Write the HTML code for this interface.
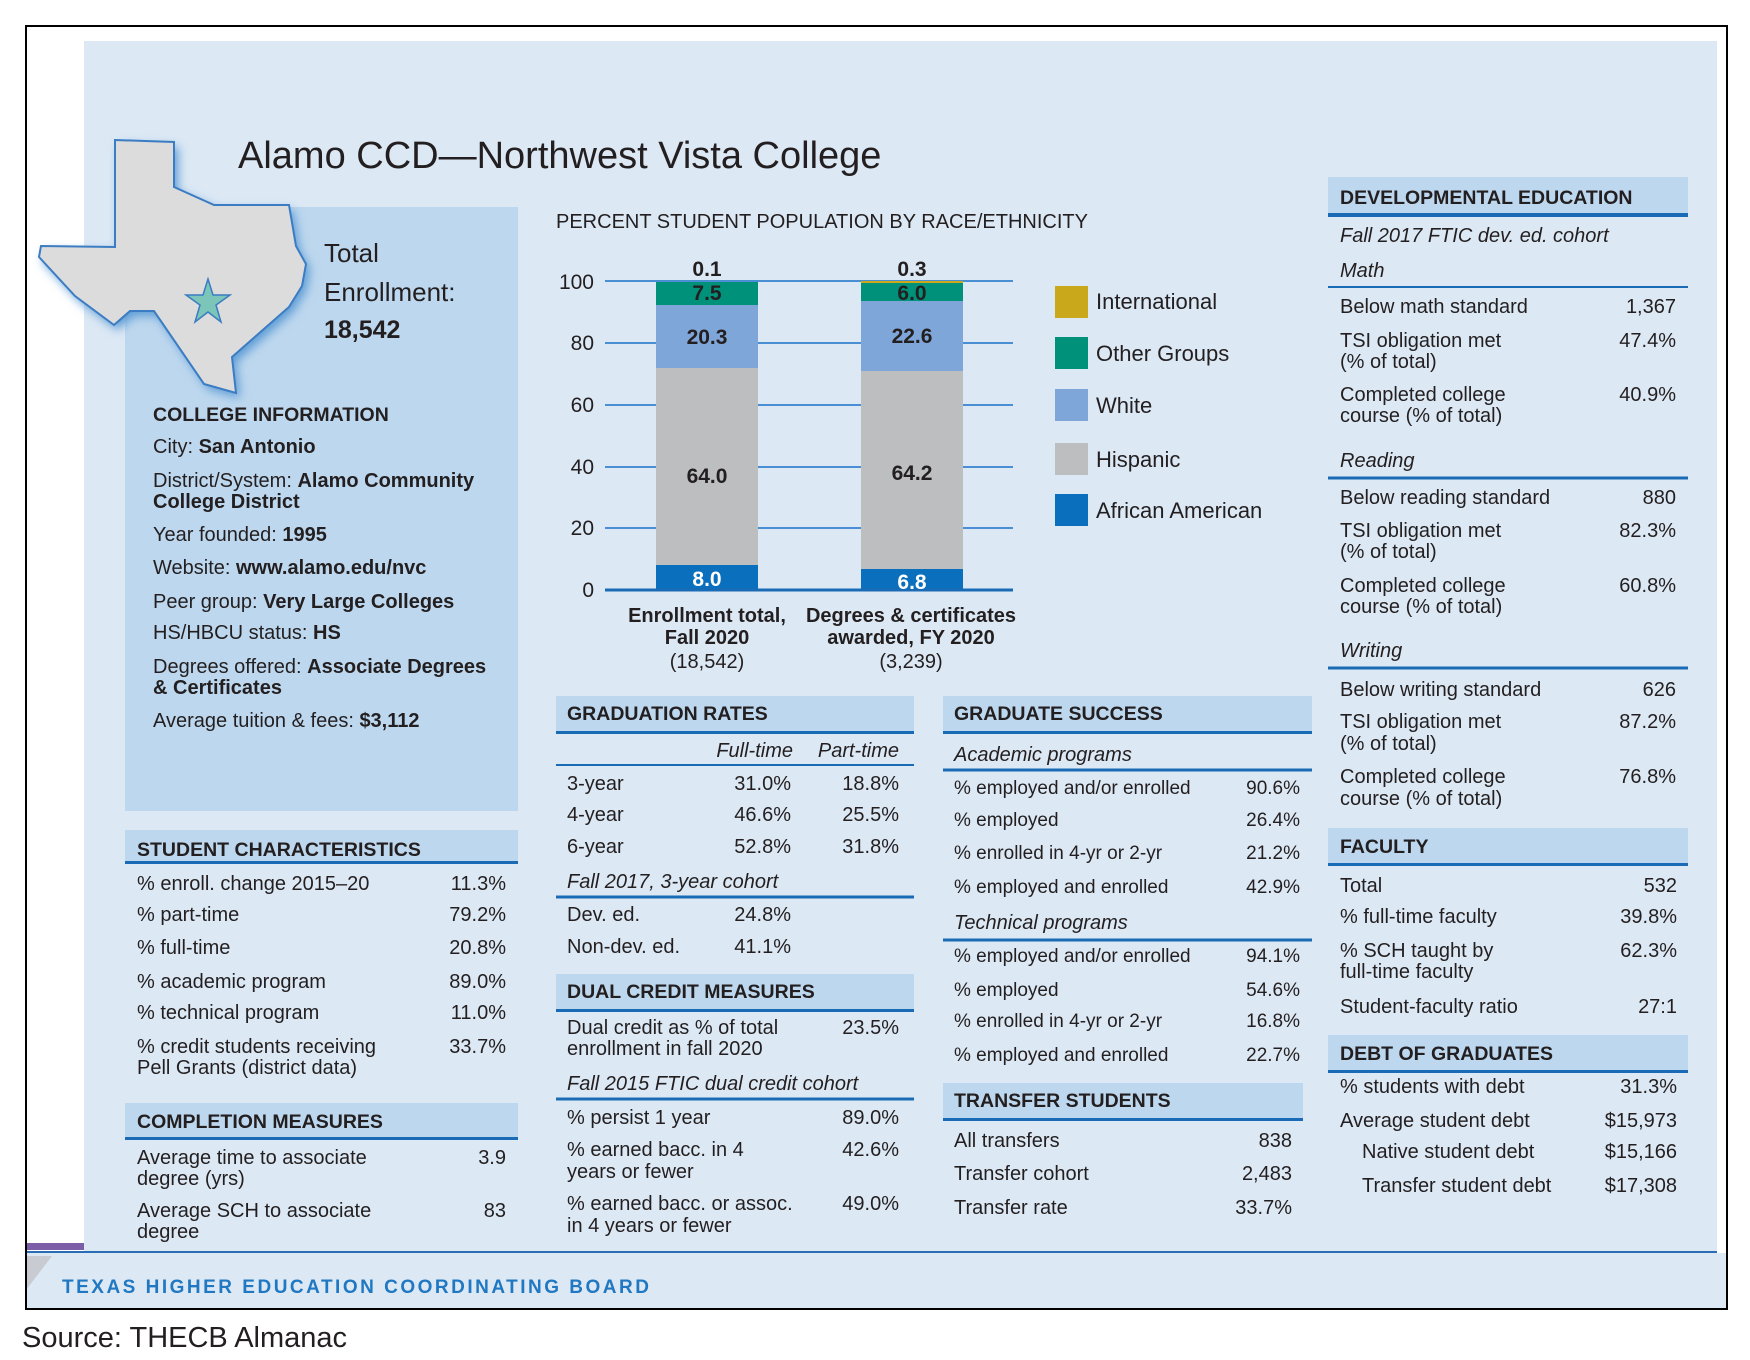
<!DOCTYPE html>
<html><head><meta charset="utf-8"><style>
html,body{margin:0;padding:0;background:#fff;}
svg{display:block;font-family:"Liberation Sans",sans-serif;}
text{fill:#231f20;}
.b{font-weight:bold;}
.h{font-weight:bold;font-size:19.5px;}
.i{font-style:italic;}
</style></head><body>
<svg width="1750" height="1360" viewBox="0 0 1750 1360" xmlns="http://www.w3.org/2000/svg" font-size="20">
<rect x="0" y="0" width="1750" height="1360" fill="#fff"/>
<rect x="84" y="41" width="1633" height="1212" fill="#dce8f4"/>
<rect x="26" y="1253" width="1701" height="56" fill="#dce8f4"/>
<rect x="26" y="1243" width="58" height="7" fill="#7b5ea7"/>
<line x1="26" y1="1252" x2="1717" y2="1252" stroke="#2a6db5" stroke-width="2"/>
<polygon points="26,1256 52,1256 26,1290" fill="#c8ccd2"/>
<rect x="26" y="26" width="1701" height="1283" fill="none" stroke="#000" stroke-width="2"/>
<text x="62" y="1293" font-size="19" font-weight="bold" letter-spacing="2.5" style="fill:#1f78c1">TEXAS HIGHER EDUCATION COORDINATING BOARD</text>
<text x="22" y="1347" font-size="29">Source: THECB Almanac</text>

<rect x="125" y="207" width="393" height="604" fill="#bdd7ee"/>
<defs><filter id="sh" x="-20%" y="-20%" width="140%" height="140%"><feGaussianBlur stdDeviation="5"/></filter></defs>
<polygon points="115,140 174,142 174,187 214,205 289,205 296,246 306,264 302,286 289,307 232,357 236,393 204,384 154,311 130,311 114,325 75,296 39,257 41,246 115,247" fill="#5b9bd5" filter="url(#sh)" transform="translate(4,5)"/>
<polygon points="115,140 174,142 174,187 214,205 289,205 296,246 306,264 302,286 289,307 232,357 236,393 204,384 154,311 130,311 114,325 75,296 39,257 41,246 115,247" fill="#dcdcdc" stroke="#3b7cc2" stroke-width="2"/>
<polygon points="208,279 213,295 230,295 216,305 221,322 208,312 195,322 200,305 186,295 203,295" fill="#7cc6b9" stroke="#3b7cc2" stroke-width="1.5"/>
<text x="238" y="168" font-size="38">Alamo CCD—Northwest Vista College</text>
<text x="324" y="262" font-size="26">Total</text>
<text x="324" y="301" font-size="26">Enrollment:</text>
<text x="324" y="338" font-size="25" class="b">18,542</text>
<text x="153" y="421" class="h" font-size="21">COLLEGE INFORMATION</text>
<text x="153" y="453">City: <tspan class="b">San Antonio</tspan></text>
<text x="153" y="487">District/System: <tspan class="b">Alamo Community</tspan></text>
<text x="153" y="508" class="b">College District</text>
<text x="153" y="541">Year founded: <tspan class="b">1995</tspan></text>
<text x="153" y="574">Website: <tspan class="b">www.alamo.edu/nvc</tspan></text>
<text x="153" y="608">Peer group: <tspan class="b">Very Large Colleges</tspan></text>
<text x="153" y="639">HS/HBCU status: <tspan class="b">HS</tspan></text>
<text x="153" y="673">Degrees offered: <tspan class="b">Associate Degrees</tspan></text>
<text x="153" y="694" class="b">&amp; Certificates</text>
<text x="153" y="727">Average tuition &amp; fees: <tspan class="b">$3,112</tspan></text>

<rect x="125" y="830" width="393" height="32" fill="#bdd7ee"/>
<rect x="125" y="861" width="393" height="3" fill="#1a6bb5"/>
<text x="137" y="856" class="h">STUDENT CHARACTERISTICS</text>
<text x="137" y="890">% enroll. change 2015–20</text><text x="506" y="890" text-anchor="end">11.3%</text>
<text x="137" y="921">% part-time</text><text x="506" y="921" text-anchor="end">79.2%</text>
<text x="137" y="954">% full-time</text><text x="506" y="954" text-anchor="end">20.8%</text>
<text x="137" y="988">% academic program</text><text x="506" y="988" text-anchor="end">89.0%</text>
<text x="137" y="1019">% technical program</text><text x="506" y="1019" text-anchor="end">11.0%</text>
<text x="137" y="1053">% credit students receiving</text><text x="506" y="1053" text-anchor="end">33.7%</text>
<text x="137" y="1074">Pell Grants (district data)</text>
<rect x="125" y="1103" width="393" height="34" fill="#bdd7ee"/>
<rect x="125" y="1137" width="393" height="3" fill="#1a6bb5"/>
<text x="137" y="1128" class="h">COMPLETION MEASURES</text>
<text x="137" y="1164">Average time to associate</text><text x="506" y="1164" text-anchor="end">3.9</text>
<text x="137" y="1185">degree (yrs)</text>
<text x="137" y="1217">Average SCH to associate</text><text x="506" y="1217" text-anchor="end">83</text>
<text x="137" y="1238">degree</text>

<text x="556" y="228" font-size="20">PERCENT STUDENT POPULATION BY RACE/ETHNICITY</text>
<g stroke="#4a8fd4" stroke-width="2">
<line x1="605" y1="281" x2="1013" y2="281"/>
<line x1="605" y1="343" x2="1013" y2="343"/>
<line x1="605" y1="405" x2="1013" y2="405"/>
<line x1="605" y1="467" x2="1013" y2="467"/>
<line x1="605" y1="528" x2="1013" y2="528"/>
</g>
<g text-anchor="end" font-size="21">
<text x="594" y="289">100</text><text x="594" y="350">80</text><text x="594" y="412">60</text>
<text x="594" y="474">40</text><text x="594" y="535">20</text><text x="594" y="597">0</text>
</g>
<rect x="656" y="565" width="102" height="25" fill="#0a6fbd"/>
<rect x="656" y="368" width="102" height="197" fill="#bcbec0"/>
<rect x="656" y="305" width="102" height="63" fill="#7ea6d8"/>
<rect x="656" y="282" width="102" height="23" fill="#00917a"/>
<rect x="861" y="569" width="102" height="21" fill="#0a6fbd"/>
<rect x="861" y="371" width="102" height="198" fill="#bcbec0"/>
<rect x="861" y="301" width="102" height="70" fill="#7ea6d8"/>
<rect x="861" y="283" width="102" height="18" fill="#00917a"/>
<rect x="861" y="281" width="102" height="2" fill="#c9a81c"/>
<line x1="605" y1="590" x2="1013" y2="590" stroke="#1a6bb5" stroke-width="3"/>
<g text-anchor="middle" class="b" font-size="21">
<text x="707" y="276">0.1</text><text x="912" y="276">0.3</text>
<text x="707" y="300">7.5</text><text x="912" y="300">6.0</text>
<text x="707" y="344">20.3</text><text x="912" y="343">22.6</text>
<text x="707" y="483">64.0</text><text x="912" y="480">64.2</text>
<text x="707" y="586" style="fill:#fff">8.0</text><text x="912" y="589" style="fill:#fff">6.8</text>
</g>
<g text-anchor="middle" class="b" font-size="20">
<text x="707" y="622">Enrollment total,</text><text x="911" y="622">Degrees &amp; certificates</text>
<text x="707" y="644">Fall 2020</text><text x="911" y="644">awarded, FY 2020</text>
</g>
<g text-anchor="middle"><text x="707" y="668">(18,542)</text><text x="911" y="668">(3,239)</text></g>
<rect x="1055" y="286" width="33" height="32" fill="#c9a81c"/>
<rect x="1055" y="337" width="33" height="32" fill="#00917a"/>
<rect x="1055" y="389" width="33" height="32" fill="#7ea6d8"/>
<rect x="1055" y="443" width="33" height="32" fill="#bcbec0"/>
<rect x="1055" y="494" width="33" height="32" fill="#0a6fbd"/>
<g font-size="22">
<text x="1096" y="309">International</text><text x="1096" y="361">Other Groups</text>
<text x="1096" y="413">White</text><text x="1096" y="467">Hispanic</text><text x="1096" y="518">African American</text>
</g>

<rect x="556" y="696" width="358" height="35" fill="#bdd7ee"/>
<rect x="556" y="731" width="358" height="3" fill="#1a6bb5"/>
<text x="567" y="720" class="h">GRADUATION RATES</text>
<text x="793" y="757" text-anchor="end" class="i">Full-time</text><text x="899" y="757" text-anchor="end" class="i">Part-time</text>
<line x1="556" y1="765" x2="914" y2="765" stroke="#1a6bb5" stroke-width="2"/>
<text x="567" y="790">3-year</text><text x="791" y="790" text-anchor="end">31.0%</text><text x="899" y="790" text-anchor="end">18.8%</text>
<text x="567" y="821">4-year</text><text x="791" y="821" text-anchor="end">46.6%</text><text x="899" y="821" text-anchor="end">25.5%</text>
<text x="567" y="853">6-year</text><text x="791" y="853" text-anchor="end">52.8%</text><text x="899" y="853" text-anchor="end">31.8%</text>
<text x="567" y="888" class="i">Fall 2017, 3-year cohort</text>
<line x1="556" y1="897" x2="914" y2="897" stroke="#1a6bb5" stroke-width="3"/>
<text x="567" y="921">Dev. ed.</text><text x="791" y="921" text-anchor="end">24.8%</text>
<text x="567" y="953">Non-dev. ed.</text><text x="791" y="953" text-anchor="end">41.1%</text>
<rect x="556" y="974" width="358" height="35" fill="#bdd7ee"/>
<rect x="556" y="1009" width="358" height="3" fill="#1a6bb5"/>
<text x="567" y="998" class="h">DUAL CREDIT MEASURES</text>
<text x="567" y="1034">Dual credit as % of total</text><text x="899" y="1034" text-anchor="end">23.5%</text>
<text x="567" y="1055">enrollment in fall 2020</text>
<text x="567" y="1090" class="i">Fall 2015 FTIC dual credit cohort</text>
<line x1="556" y1="1099" x2="914" y2="1099" stroke="#1a6bb5" stroke-width="3"/>
<text x="567" y="1124">% persist 1 year</text><text x="899" y="1124" text-anchor="end">89.0%</text>
<text x="567" y="1156">% earned bacc. in 4</text><text x="899" y="1156" text-anchor="end">42.6%</text>
<text x="567" y="1178">years or fewer</text>
<text x="567" y="1210">% earned bacc. or assoc.</text><text x="899" y="1210" text-anchor="end">49.0%</text>
<text x="567" y="1232">in 4 years or fewer</text>

<rect x="943" y="696" width="369" height="35" fill="#bdd7ee"/>
<rect x="943" y="731" width="369" height="3" fill="#1a6bb5"/>
<text x="954" y="720" class="h">GRADUATE SUCCESS</text>
<text x="954" y="761" class="i">Academic programs</text>
<line x1="943" y1="770" x2="1312" y2="770" stroke="#1a6bb5" stroke-width="3"/>
<g font-size="19">
<text x="954" y="794">% employed and/or enrolled</text><text x="1300" y="794" text-anchor="end">90.6%</text>
<text x="954" y="826">% employed</text><text x="1300" y="826" text-anchor="end">26.4%</text>
<text x="954" y="859">% enrolled in 4-yr or 2-yr</text><text x="1300" y="859" text-anchor="end">21.2%</text>
<text x="954" y="893">% employed and enrolled</text><text x="1300" y="893" text-anchor="end">42.9%</text>
</g>
<text x="954" y="929" class="i">Technical programs</text>
<line x1="943" y1="940" x2="1312" y2="940" stroke="#1a6bb5" stroke-width="3"/>
<g font-size="19">
<text x="954" y="962">% employed and/or enrolled</text><text x="1300" y="962" text-anchor="end">94.1%</text>
<text x="954" y="996">% employed</text><text x="1300" y="996" text-anchor="end">54.6%</text>
<text x="954" y="1027">% enrolled in 4-yr or 2-yr</text><text x="1300" y="1027" text-anchor="end">16.8%</text>
<text x="954" y="1061">% employed and enrolled</text><text x="1300" y="1061" text-anchor="end">22.7%</text>
</g>
<rect x="943" y="1083" width="360" height="35" fill="#bdd7ee"/>
<rect x="943" y="1118" width="360" height="3" fill="#1a6bb5"/>
<text x="954" y="1107" class="h">TRANSFER STUDENTS</text>
<text x="954" y="1147">All transfers</text><text x="1292" y="1147" text-anchor="end">838</text>
<text x="954" y="1180">Transfer cohort</text><text x="1292" y="1180" text-anchor="end">2,483</text>
<text x="954" y="1214">Transfer rate</text><text x="1292" y="1214" text-anchor="end">33.7%</text>

<rect x="1328" y="177" width="360" height="37" fill="#bdd7ee"/>
<rect x="1328" y="213" width="360" height="4" fill="#1a6bb5"/>
<text x="1340" y="204" class="h">DEVELOPMENTAL EDUCATION</text>
<text x="1340" y="242" class="i">Fall 2017 FTIC dev. ed. cohort</text>
<text x="1340" y="277" class="i">Math</text>
<line x1="1328" y1="287" x2="1688" y2="287" stroke="#1a6bb5" stroke-width="2"/>
<text x="1340" y="313">Below math standard</text><text x="1676" y="313" text-anchor="end">1,367</text>
<text x="1340" y="347">TSI obligation met</text><text x="1676" y="347" text-anchor="end">47.4%</text>
<text x="1340" y="368">(% of total)</text>
<text x="1340" y="401">Completed college</text><text x="1676" y="401" text-anchor="end">40.9%</text>
<text x="1340" y="422">course (% of total)</text>
<text x="1340" y="467" class="i">Reading</text>
<line x1="1328" y1="478" x2="1688" y2="478" stroke="#1a6bb5" stroke-width="3"/>
<text x="1340" y="504">Below reading standard</text><text x="1676" y="504" text-anchor="end">880</text>
<text x="1340" y="537">TSI obligation met</text><text x="1676" y="537" text-anchor="end">82.3%</text>
<text x="1340" y="558">(% of total)</text>
<text x="1340" y="592">Completed college</text><text x="1676" y="592" text-anchor="end">60.8%</text>
<text x="1340" y="613">course (% of total)</text>
<text x="1340" y="657" class="i">Writing</text>
<line x1="1328" y1="668" x2="1688" y2="668" stroke="#1a6bb5" stroke-width="3"/>
<text x="1340" y="696">Below writing standard</text><text x="1676" y="696" text-anchor="end">626</text>
<text x="1340" y="728">TSI obligation met</text><text x="1676" y="728" text-anchor="end">87.2%</text>
<text x="1340" y="750">(% of total)</text>
<text x="1340" y="783">Completed college</text><text x="1676" y="783" text-anchor="end">76.8%</text>
<text x="1340" y="805">course (% of total)</text>
<rect x="1328" y="828" width="360" height="35" fill="#bdd7ee"/>
<rect x="1328" y="863" width="360" height="3" fill="#1a6bb5"/>
<text x="1340" y="853" class="h">FACULTY</text>
<text x="1340" y="892">Total</text><text x="1677" y="892" text-anchor="end">532</text>
<text x="1340" y="923">% full-time faculty</text><text x="1677" y="923" text-anchor="end">39.8%</text>
<text x="1340" y="957">% SCH taught by</text><text x="1677" y="957" text-anchor="end">62.3%</text>
<text x="1340" y="978">full-time faculty</text>
<text x="1340" y="1013">Student-faculty ratio</text><text x="1677" y="1013" text-anchor="end">27:1</text>
<rect x="1328" y="1035" width="360" height="35" fill="#bdd7ee"/>
<rect x="1328" y="1070" width="360" height="3" fill="#1a6bb5"/>
<text x="1340" y="1060" class="h">DEBT OF GRADUATES</text>
<text x="1340" y="1093">% students with debt</text><text x="1677" y="1093" text-anchor="end">31.3%</text>
<text x="1340" y="1127">Average student debt</text><text x="1677" y="1127" text-anchor="end">$15,973</text>
<text x="1362" y="1158">Native student debt</text><text x="1677" y="1158" text-anchor="end">$15,166</text>
<text x="1362" y="1192">Transfer student debt</text><text x="1677" y="1192" text-anchor="end">$17,308</text>
</svg>
</body></html>
